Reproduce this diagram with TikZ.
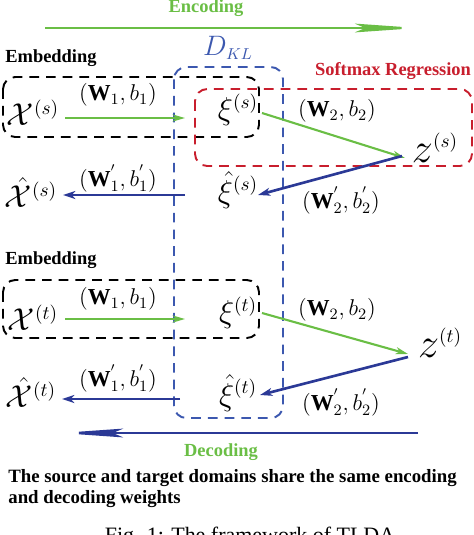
\documentclass[tikz,border=0pt]{standalone}
\usepackage{fix-cm}
\usepackage{fontspec}
\setmainfont{Liberation Serif}
\usetikzlibrary{arrows.meta,calc}
\DeclareMathSizes{18}{18}{11}{8}
\DeclareMathSizes{24}{24}{11}{8}
\DeclareMathSizes{13}{13}{9}{7}
\DeclareMathSizes{16}{16}{9}{7}
\definecolor{eg}{RGB}{106,190,69}
\definecolor{db}{RGB}{43,57,150}
\definecolor{lb}{RGB}{60,88,175}
\definecolor{rr}{RGB}{200,30,45}
\tikzset{
  sym/.style={inner sep=0pt, font=\fontsize{18}{20}\selectfont},
  zsym/.style={inner sep=0pt, font=\fontsize{24}{26}\selectfont},
  lab/.style={inner sep=0pt, font=\fontsize{13}{15}\selectfont},
  ttl/.style={inner sep=0pt, font=\fontsize{10.5}{12}\bfseries},
  garrow/.style={draw=eg, line width=1.2pt, -{Stealth[length=7pt,width=4pt,inset=2pt]}},
  barrow/.style={draw=db, line width=1.5pt, -{Stealth[length=7pt,width=4.5pt,inset=2pt]}},
  longtip/.style={-{Stealth[length=36pt,width=5pt,inset=6pt]}},
  dbox/.style={line width=1.1pt, dash pattern=on 5.5pt off 4pt, rounded corners=7pt},
}
\begin{document}
\begin{tikzpicture}[x=0.02cm,y=-0.02cm]
\useasboundingbox (0,0) rectangle (474,535);
% boxes
\draw[dbox, black] (3,77) rectangle (259,137);
\draw[dbox, black] (3,280) rectangle (259,338);
\draw[dbox, rr] (195,89) rectangle (472,166);
\draw[dbox, lb] (174,67) rectangle (283,418);
% titles
\node[ttl, text=eg] (enc) at (206,8) {Encoding};
\node[ttl, text=eg] (dec) at (221,452) {Decoding};
\node[ttl, anchor=west] (emb1) at (5,58) {Embedding};
\node[ttl, anchor=west] (emb2) at (5,260) {Embedding};
\node[ttl, text=rr] (soft) at (393,71) {Softmax Regression};
\node[inner sep=0pt, text=lb, font=\fontsize{16}{18}\selectfont] (dkl) at (228,48) {$D_{KL}$};
% long arrows
\coordinate (e1) at (45,28);
\coordinate (e2) at (418,28);
\coordinate (d1) at (418,433);
\coordinate (d2) at (60,433);
\draw[draw=eg, line width=1.3pt, longtip] (e1) -- (e2);
\draw[draw=db, line width=1.5pt, longtip] (d1) -- (d2);
% source symbols
\node[sym] (xs) at (33,113) {$\mathcal{X}^{(s)}$};
\node[sym] (xis) at (238,110) {$\xi^{(s)}$};
\node[zsym] (zs) at (435,148) {$z^{(s)}$};
\node[sym] (xihs) at (238,190) {$\hat{\xi}^{(s)}$};
\node[sym] (xhs) at (31,193) {$\hat{\mathcal{X}}^{(s)}$};
% target symbols
\node[sym] (xt) at (33,318) {$\mathcal{X}^{(t)}$};
\node[sym] (xit) at (238,313) {$\xi^{(t)}$};
\node[zsym] (zt) at (440,343) {$z^{(t)}$};
\node[sym] (xiht) at (238,393) {$\hat{\xi}^{(t)}$};
\node[sym] (xht) at (31,393) {$\hat{\mathcal{X}}^{(t)}$};
% labels
\node[lab] (l1s) at (118,95) {$(\mathbf{W}_1,b_1)$};
\node[lab] (l2s) at (337,111) {$(\mathbf{W}_2,b_2)$};
\node[lab] (l3s) at (341,200) {$(\mathbf{W}^{'}_2,b^{'}_2)$};
\node[lab] (l4s) at (118,178) {$(\mathbf{W}^{'}_1,b^{'}_1)$};
\node[lab] (l1t) at (118,299) {$(\mathbf{W}_1,b_1)$};
\node[lab] (l2t) at (337,310) {$(\mathbf{W}_2,b_2)$};
\node[lab] (l3t) at (341,402) {$(\mathbf{W}^{'}_2,b^{'}_2)$};
\node[lab] (l4t) at (118,378) {$(\mathbf{W}^{'}_1,b^{'}_1)$};
% source arrows
\draw[garrow] ($(xs)+(32,5)$) -- ($(xis)+(-53,8)$);
\draw[garrow] ($(xis)+(24,3)$) -- ($(zs)+(-30,10)$);
\draw[barrow] ($(zs)+(-33,8)$) -- ($(xihs)+(20,5)$);
\draw[barrow] ($(xihs)+(-53,5)$) -- ($(xhs)+(32,2)$);
% target arrows
\draw[garrow] ($(xt)+(32,1)$) -- ($(xit)+(-53,6)$);
\draw[garrow] ($(xit)+(24,0)$) -- ($(zt)+(-32,11)$);
\draw[barrow] ($(zt)+(-32,14)$) -- ($(xiht)+(22,2)$);
\draw[barrow] ($(xiht)+(-58,6)$) -- ($(xht)+(31,6)$);
% bottom text
\node[ttl, anchor=west, font=\fontsize{10.7}{12}\bfseries] (note1) at (8,478) {The source and target domains share the same encoding};
\node[ttl, anchor=west, font=\fontsize{10.7}{12}\bfseries] (note2) at (8,499) {and decoding weights};
\node[inner sep=0pt, anchor=base, font=\fontsize{12.5}{14}\selectfont] (cap) at (250,542) {Fig. 1: The framework of TLDA};
\end{tikzpicture}
\end{document}
